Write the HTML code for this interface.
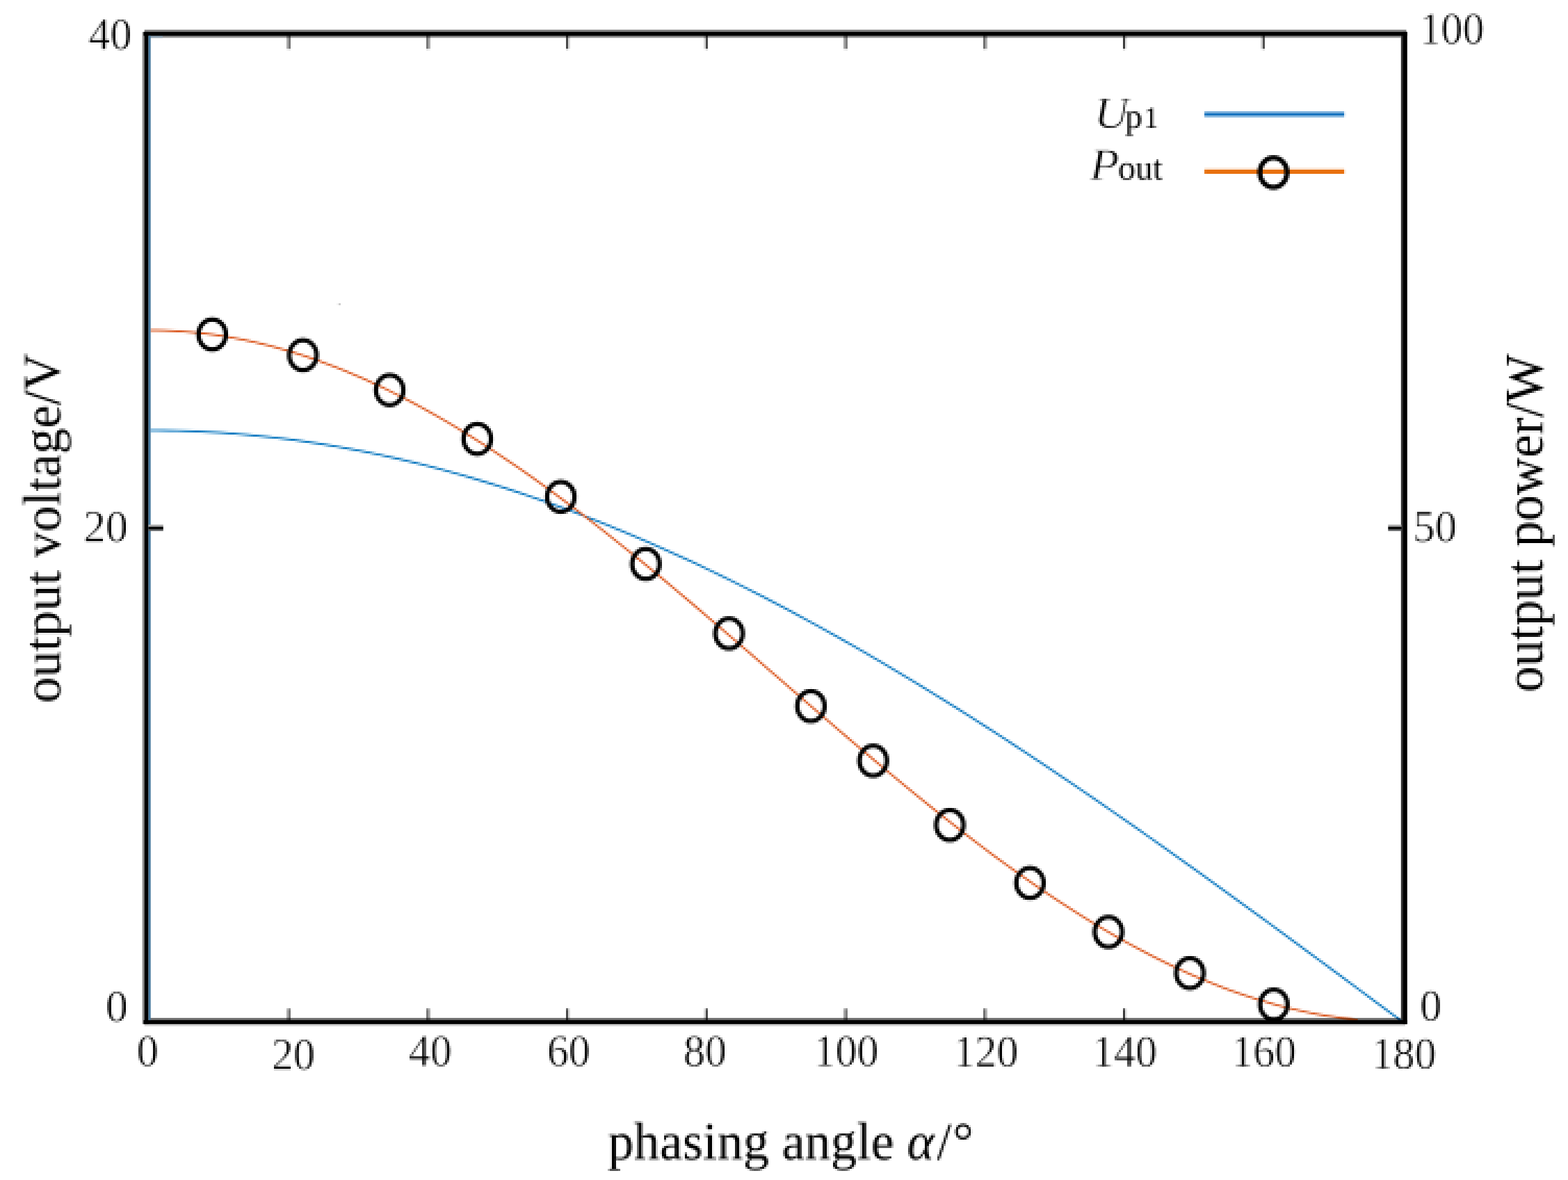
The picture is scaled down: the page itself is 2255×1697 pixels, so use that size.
<!DOCTYPE html>
<html lang="en"><head><meta charset="utf-8"><title>Output voltage and output power versus phasing angle</title>
<style>html,body{margin:0;padding:0;background:#fff;}body{width:2255px;height:1697px;overflow:hidden;}svg{display:block;}text{font-family:'Liberation Serif', 'DejaVu Serif', serif;fill:#000;stroke:#fff;stroke-width:0;paint-order:fill stroke;}.thin text{stroke-width:0.8px;}.it{stroke-width:1.1px;}.sm{stroke-width:0;}</style>
</head><body>
<svg width="2255" height="1697" viewBox="0 0 2255 1697">
<defs><filter id="lowres" filterUnits="userSpaceOnUse" x="0" y="0" width="2255" height="1697" color-interpolation-filters="sRGB">
<feConvolveMatrix in="SourceGraphic" order="3" kernelMatrix="1 1 1 1 1 1 1 1 1" divisor="9" edgeMode="duplicate" preserveAlpha="true" result="avg"/>
<feFlood x="2" y="2" width="1" height="1" flood-color="#000" result="dot"/>
<feComposite in="dot" in2="dot" operator="over" x="1" y="1" width="3" height="3" result="cell"/>
<feTile in="cell" result="grid"/>
<feComposite in="avg" in2="grid" operator="in" result="samples"/>
<feMorphology in="samples" operator="dilate" radius="1" result="blocks"/>
<feGaussianBlur in="blocks" stdDeviation="0.6" result="soft"/>
<feFlood flood-color="#fff" result="white"/>
<feComposite in="soft" in2="white" operator="over"/>
</filter>
<filter id="soft" filterUnits="userSpaceOnUse" x="190" y="30" width="1850" height="1460" color-interpolation-filters="sRGB"><feGaussianBlur stdDeviation="0.55"/></filter>
<clipPath id="edge"><rect x="214" y="1463.9" width="1800.8" height="5.1"/></clipPath>
</defs>
<g filter="url(#lowres)">
<rect x="0" y="0" width="2255" height="1697" fill="#fff"/>
<g fill="none" stroke-linejoin="round">
<path d="M215.7,619.0 L225.7,619.0 L235.7,619.1 L245.7,619.3 L255.7,619.5 L265.8,619.8 L275.8,620.2 L285.8,620.6 L295.8,621.1 L305.8,621.6 L315.8,622.2 L325.8,622.9 L335.8,623.7 L345.8,624.5 L355.9,625.3 L365.9,626.3 L375.9,627.3 L385.9,628.3 L395.9,629.5 L405.9,630.7 L415.9,631.9 L425.9,633.2 L435.9,634.6 L446.0,636.1 L456.0,637.6 L466.0,639.2 L476.0,640.8 L486.0,642.5 L496.0,644.3 L506.0,646.1 L516.0,648.0 L526.0,649.9 L536.1,652.0 L546.1,654.0 L556.1,656.2 L566.1,658.4 L576.1,660.6 L586.1,663.0 L596.1,665.4 L606.1,667.8 L616.1,670.3 L626.2,672.9 L636.2,675.5 L646.2,678.2 L656.2,681.0 L666.2,683.8 L676.2,686.6 L686.2,689.6 L696.2,692.6 L706.2,695.6 L716.2,698.7 L726.3,701.9 L736.3,705.1 L746.3,708.4 L756.3,711.8 L766.3,715.2 L776.3,718.6 L786.3,722.1 L796.3,725.7 L806.3,729.3 L816.4,733.0 L826.4,736.8 L836.4,740.5 L846.4,744.4 L856.4,748.3 L866.4,752.3 L876.4,756.3 L886.4,760.4 L896.4,764.5 L906.5,768.7 L916.5,772.9 L926.5,777.2 L936.5,781.5 L946.5,785.9 L956.5,790.4 L966.5,794.9 L976.5,799.4 L986.5,804.0 L996.6,808.6 L1006.6,813.3 L1016.6,818.1 L1026.6,822.9 L1036.6,827.7 L1046.6,832.6 L1056.6,837.6 L1066.6,842.6 L1076.6,847.6 L1086.7,852.7 L1096.7,857.8 L1106.7,863.0 L1116.7,868.2 L1126.7,873.5 L1136.7,878.8 L1146.7,884.2 L1156.7,889.6 L1166.7,895.1 L1176.8,900.6 L1186.8,906.1 L1196.8,911.7 L1206.8,917.3 L1216.8,923.0 L1226.8,928.7 L1236.8,934.4 L1246.8,940.2 L1256.8,946.1 L1266.9,951.9 L1276.9,957.9 L1286.9,963.8 L1296.9,969.8 L1306.9,975.8 L1316.9,981.9 L1326.9,988.0 L1336.9,994.1 L1346.9,1000.3 L1357.0,1006.5 L1367.0,1012.8 L1377.0,1019.0 L1387.0,1025.4 L1397.0,1031.7 L1407.0,1038.1 L1417.0,1044.5 L1427.0,1050.9 L1437.0,1057.4 L1447.1,1063.9 L1457.1,1070.5 L1467.1,1077.1 L1477.1,1083.7 L1487.1,1090.3 L1497.1,1096.9 L1507.1,1103.6 L1517.1,1110.4 L1527.1,1117.1 L1537.2,1123.9 L1547.2,1130.7 L1557.2,1137.5 L1567.2,1144.3 L1577.2,1151.2 L1587.2,1158.1 L1597.2,1165.0 L1607.2,1172.0 L1617.2,1178.9 L1627.3,1185.9 L1637.3,1192.9 L1647.3,1200.0 L1657.3,1207.0 L1667.3,1214.1 L1677.3,1221.2 L1687.3,1228.3 L1697.3,1235.4 L1707.3,1242.6 L1717.3,1249.7 L1727.4,1256.9 L1737.4,1264.1 L1747.4,1271.3 L1757.4,1278.6 L1767.4,1285.8 L1777.4,1293.1 L1787.4,1300.3 L1797.4,1307.6 L1807.4,1314.9 L1817.5,1322.2 L1827.5,1329.5 L1837.5,1336.9 L1847.5,1344.2 L1857.5,1351.6 L1867.5,1358.9 L1877.5,1366.3 L1887.5,1373.7 L1897.5,1381.0 L1907.6,1388.4 L1917.6,1395.8 L1927.6,1403.2 L1937.6,1410.6 L1947.6,1418.0 L1957.6,1425.5 L1967.6,1432.9 L1977.6,1440.3 L1987.6,1447.7 L1997.7,1455.1 L2007.7,1462.6 L2017.7,1470.0" stroke="#0072bd" stroke-width="2.7"/>
<path d="M215.7,475.1 L225.7,475.2 L235.7,475.4 L245.7,475.8 L255.7,476.3 L265.8,477.0 L275.8,477.8 L285.8,478.8 L295.8,479.9 L305.8,481.2 L315.8,482.6 L325.8,484.2 L335.8,486.0 L345.8,487.8 L355.9,489.9 L365.9,492.0 L375.9,494.4 L385.9,496.8 L395.9,499.4 L405.9,502.2 L415.9,505.1 L425.9,508.1 L435.9,511.3 L446.0,514.6 L456.0,518.1 L466.0,521.7 L476.0,525.4 L486.0,529.3 L496.0,533.3 L506.0,537.5 L516.0,541.7 L526.0,546.1 L536.1,550.7 L546.1,555.3 L556.1,560.1 L566.1,565.1 L576.1,570.1 L586.1,575.3 L596.1,580.5 L606.1,585.9 L616.1,591.5 L626.2,597.1 L636.2,602.9 L646.2,608.7 L656.2,614.7 L666.2,620.8 L676.2,627.0 L686.2,633.3 L696.2,639.7 L706.2,646.2 L716.2,652.8 L726.3,659.5 L736.3,666.3 L746.3,673.2 L756.3,680.1 L766.3,687.2 L776.3,694.4 L786.3,701.6 L796.3,708.9 L806.3,716.3 L816.4,723.8 L826.4,731.4 L836.4,739.0 L846.4,746.7 L856.4,754.5 L866.4,762.3 L876.4,770.2 L886.4,778.2 L896.4,786.2 L906.5,794.3 L916.5,802.4 L926.5,810.6 L936.5,818.8 L946.5,827.1 L956.5,835.4 L966.5,843.8 L976.5,852.2 L986.5,860.6 L996.6,869.1 L1006.6,877.6 L1016.6,886.2 L1026.6,894.7 L1036.6,903.3 L1046.6,911.9 L1056.6,920.5 L1066.6,929.2 L1076.6,937.8 L1086.7,946.5 L1096.7,955.2 L1106.7,963.9 L1116.7,972.5 L1126.7,981.2 L1136.7,989.9 L1146.7,998.6 L1156.7,1007.2 L1166.7,1015.9 L1176.8,1024.5 L1186.8,1033.2 L1196.8,1041.8 L1206.8,1050.4 L1216.8,1058.9 L1226.8,1067.5 L1236.8,1076.0 L1246.8,1084.4 L1256.8,1092.9 L1266.9,1101.3 L1276.9,1109.7 L1286.9,1118.0 L1296.9,1126.3 L1306.9,1134.5 L1316.9,1142.7 L1326.9,1150.8 L1336.9,1158.9 L1346.9,1166.9 L1357.0,1174.9 L1367.0,1182.8 L1377.0,1190.6 L1387.0,1198.4 L1397.0,1206.1 L1407.0,1213.7 L1417.0,1221.3 L1427.0,1228.8 L1437.0,1236.2 L1447.1,1243.5 L1457.1,1250.7 L1467.1,1257.9 L1477.1,1264.9 L1487.1,1271.9 L1497.1,1278.8 L1507.1,1285.6 L1517.1,1292.3 L1527.1,1298.9 L1537.2,1305.4 L1547.2,1311.8 L1557.2,1318.1 L1567.2,1324.3 L1577.2,1330.4 L1587.2,1336.4 L1597.2,1342.2 L1607.2,1348.0 L1617.2,1353.6 L1627.3,1359.1 L1637.3,1364.5 L1647.3,1369.8 L1657.3,1375.0 L1667.3,1380.0 L1677.3,1385.0 L1687.3,1389.7 L1697.3,1394.4 L1707.3,1398.9 L1717.3,1403.4 L1727.4,1407.6 L1737.4,1411.8 L1747.4,1415.8 L1757.4,1419.7 L1767.4,1423.4 L1777.4,1427.0 L1787.4,1430.5 L1797.4,1433.8 L1807.4,1437.0 L1817.5,1440.0 L1827.5,1442.9 L1837.5,1445.7 L1847.5,1448.3 L1857.5,1450.7 L1867.5,1453.0 L1877.5,1455.2 L1887.5,1457.3 L1897.5,1459.1 L1907.6,1460.9 L1917.6,1462.4 L1927.6,1463.9 L1937.6,1465.2 L1947.6,1466.3 L1957.6,1467.3 L1967.6,1468.1 L1977.6,1468.8 L1987.6,1469.3 L1997.7,1469.7 L2007.7,1469.9 L2017.7,1470.0" stroke="#d95319" stroke-width="2.7"/>
</g>
<g fill="none" stroke="#000" stroke-width="6.5">
<ellipse cx="305.2" cy="481.0" rx="19.7" ry="21.5"/>
<ellipse cx="435.7" cy="510.8" rx="19.7" ry="21.5"/>
<ellipse cx="560.4" cy="560.9" rx="19.7" ry="21.5"/>
<ellipse cx="686.4" cy="631.2" rx="19.7" ry="21.5"/>
<ellipse cx="806.5" cy="714.4" rx="19.7" ry="21.5"/>
<ellipse cx="928.8" cy="811.1" rx="19.7" ry="21.5"/>
<ellipse cx="1048.4" cy="911.1" rx="19.7" ry="21.5"/>
<ellipse cx="1166.2" cy="1015.5" rx="19.7" ry="21.5"/>
<ellipse cx="1255.7" cy="1094.0" rx="19.7" ry="21.5"/>
<ellipse cx="1366.0" cy="1186.5" rx="19.7" ry="21.5"/>
<ellipse cx="1481.2" cy="1269.8" rx="19.7" ry="21.5"/>
<ellipse cx="1594.1" cy="1340.3" rx="19.7" ry="21.5"/>
<ellipse cx="1711.2" cy="1399.4" rx="19.7" ry="21.5"/>
<ellipse cx="1831.9" cy="1444.7" rx="19.7" ry="21.5"/>
</g>
<g stroke="#3c3c3c" stroke-width="3.4" fill="none">
<path d="M415.4 1466V1450.5"/>
<path d="M415.4 52V70.5"/>
<path d="M615.6 1466V1450.5"/>
<path d="M615.6 52V70.5"/>
<path d="M815.9 1466V1450.5"/>
<path d="M815.9 52V70.5"/>
<path d="M1016.1 1466V1450.5"/>
<path d="M1016.1 52V70.5"/>
<path d="M1216.3 1466V1450.5"/>
<path d="M1216.3 52V70.5"/>
<path d="M1416.5 1466V1450.5"/>
<path d="M1416.5 52V70.5"/>
<path d="M1616.7 1466V1450.5"/>
<path d="M1616.7 52V70.5"/>
<path d="M1817.0 52V70.5"/>
</g>
<rect x="486.5" y="436" width="3" height="3" fill="#c4c4c4"/>
<path d="M1732.2 164.4H1933.4" stroke="#1673bf" stroke-width="6.4" fill="none"/>
<path d="M1732.2 246.8H1933.4" stroke="#e8710f" stroke-width="6.4" fill="none"/>
<ellipse cx="1831.4" cy="248.1" rx="19.6" ry="21.2" fill="none" stroke="#000" stroke-width="7.2"/>
<text><tspan x="1573.6" y="183.6" font-size="63.00" textLength="49.59" lengthAdjust="spacingAndGlyphs" class="it" font-style="italic">U</tspan><tspan x="1618.0" y="184.2" font-size="51.50" textLength="25.00" lengthAdjust="spacingAndGlyphs" class="sm">p</tspan><tspan x="1645.0" y="183.6" font-size="43.26" textLength="21.00" lengthAdjust="spacingAndGlyphs" class="sm">1</tspan></text>
<text><tspan x="1567.3" y="258.3" font-size="63.00" textLength="42.33" lengthAdjust="spacingAndGlyphs" class="it" font-style="italic">P</tspan><tspan x="1608.0" y="258.1" font-size="51.50" textLength="63.89" lengthAdjust="spacingAndGlyphs" class="sm">out</tspan></text>
<g font-size="62" class="thin">
<text transform="translate(127.6 70.6) scale(1.000 1.060)">40</text>
<text transform="translate(120.0 778.7) scale(1.035 1.060)">20</text>
<text transform="translate(152.0 1468.8) scale(1.035 1.060)">0</text>
<text transform="translate(2041.5 63.2) scale(1.000 1.060)">100</text>
<text transform="translate(2032.3 778.7) scale(1.015 1.060)">50</text>
<text transform="translate(2042.3 1467.8) scale(1.000 1.060)">0</text>
<text transform="translate(212.2 1533.0) scale(1.000 1.060)" text-anchor="middle">0</text>
<text transform="translate(422.0 1538.0) scale(1.000 1.060)" text-anchor="middle">20</text>
<text transform="translate(618.8 1533.0) scale(1.000 1.060)" text-anchor="middle">40</text>
<text transform="translate(817.8 1533.0) scale(1.000 1.060)" text-anchor="middle">60</text>
<text transform="translate(1014.1 1533.0) scale(1.000 1.060)" text-anchor="middle">80</text>
<text transform="translate(1217.0 1533.0) scale(1.000 1.060)" text-anchor="middle">100</text>
<text transform="translate(1417.9 1533.5) scale(1.000 1.060)" text-anchor="middle">120</text>
<text transform="translate(1617.5 1533.5) scale(1.000 1.060)" text-anchor="middle">140</text>
<text transform="translate(1817.7 1533.5) scale(1.000 1.060)" text-anchor="middle">160</text>
<text transform="translate(2019.0 1536.5) scale(1.000 1.060)" text-anchor="middle">180</text>
</g>
<text transform="translate(86.4 1011.0) rotate(-90) scale(1 1.035)" font-size="74.5">output voltage/V</text>
<text transform="translate(2218 995.4) rotate(-90) scale(1 1.05)" font-size="74.5">output power/W</text>
<text transform="translate(874.2 1667.1) scale(1 1.03)" font-size="74.5">phasing angle <tspan font-style="italic">α</tspan><tspan dx="4">/</tspan><tspan dx="2">°</tspan></text>
</g>
<g filter="url(#soft)">
<rect x="204.6" y="45.9" width="5.4" height="1426.9" fill="#909090"/>
<rect x="2014.8" y="45.9" width="5.2" height="1426.9" fill="#303030"/>
<rect x="207.7" y="42.7" width="1814.8" height="5.3" fill="#808080"/>
<rect x="214.0" y="50.0" width="1800.8" height="4.4" fill="#909090"/>
<rect x="214.0" y="1463.9" width="1800.8" height="5.1" fill="#707070"/>
<rect x="207.7" y="1470.0" width="1813.3" height="5.8" fill="#d0d0d0"/>
<rect x="214.0" y="50.0" width="20.0" height="4.4" fill="#8fa3b3"/>
<rect x="412.0" y="50.0" width="3.0" height="4.4" fill="#616161"/>
<rect x="412.0" y="1463.9" width="3.0" height="5.1" fill="#4b4b4b"/>
<rect x="415.0" y="50.0" width="3.0" height="4.4" fill="#424242"/>
<rect x="415.0" y="1463.9" width="3.0" height="5.1" fill="#333333"/>
<rect x="613.0" y="50.0" width="3.0" height="4.4" fill="#444444"/>
<rect x="613.0" y="1463.9" width="3.0" height="5.1" fill="#353535"/>
<rect x="616.0" y="50.0" width="3.0" height="4.4" fill="#5f5f5f"/>
<rect x="616.0" y="1463.9" width="3.0" height="5.1" fill="#4a4a4a"/>
<rect x="814.0" y="50.0" width="3.0" height="4.4" fill="#282828"/>
<rect x="814.0" y="1463.9" width="3.0" height="5.1" fill="#1f1f1f"/>
<rect x="817.0" y="50.0" width="3.0" height="4.4" fill="#7b7b7b"/>
<rect x="817.0" y="1463.9" width="3.0" height="5.1" fill="#606060"/>
<rect x="1012.0" y="50.0" width="3.0" height="4.4" fill="#797979"/>
<rect x="1012.0" y="1463.9" width="3.0" height="5.1" fill="#5e5e5e"/>
<rect x="1015.0" y="50.0" width="3.0" height="4.4" fill="#2a2a2a"/>
<rect x="1015.0" y="1463.9" width="3.0" height="5.1" fill="#212121"/>
<rect x="1213.0" y="50.0" width="3.0" height="4.4" fill="#5d5d5d"/>
<rect x="1213.0" y="1463.9" width="3.0" height="5.1" fill="#484848"/>
<rect x="1216.0" y="50.0" width="3.0" height="4.4" fill="#474747"/>
<rect x="1216.0" y="1463.9" width="3.0" height="5.1" fill="#373737"/>
<rect x="1414.0" y="50.0" width="3.0" height="4.4" fill="#404040"/>
<rect x="1414.0" y="1463.9" width="3.0" height="5.1" fill="#323232"/>
<rect x="1417.0" y="50.0" width="3.0" height="4.4" fill="#636363"/>
<rect x="1417.0" y="1463.9" width="3.0" height="5.1" fill="#4d4d4d"/>
<rect x="1615.0" y="50.0" width="3.0" height="4.4" fill="#232323"/>
<rect x="1615.0" y="1463.9" width="3.0" height="5.1" fill="#1b1b1b"/>
<rect x="1618.0" y="50.0" width="3.0" height="4.4" fill="#808080"/>
<rect x="1618.0" y="1463.9" width="3.0" height="5.1" fill="#636363"/>
<rect x="1813.0" y="50.0" width="3.0" height="4.4" fill="#757575"/>
<rect x="1816.0" y="50.0" width="3.0" height="4.4" fill="#2e2e2e"/>
<g clip-path="url(#edge)" fill="none">
<path d="M1917.6,1395.8 L1922.6,1399.5 L1927.6,1403.2 L1932.6,1406.9 L1937.6,1410.6 L1942.6,1414.3 L1947.6,1418.0 L1952.6,1421.8 L1957.6,1425.5 L1962.6,1429.2 L1967.6,1432.9 L1972.6,1436.6 L1977.6,1440.3 L1982.6,1444.0 L1987.6,1447.7 L1992.7,1451.4 L1997.7,1455.1 L2002.7,1458.9 L2007.7,1462.6 L2012.7,1466.3 L2017.7,1470.0" stroke="#0b3a63" stroke-width="3.4"/>
<path d="M1817.5,1440.0 L1820.8,1441.0 L1824.2,1442.0 L1827.6,1442.9 L1831.0,1443.9 L1834.4,1444.8 L1837.7,1445.7 L1841.1,1446.6 L1844.5,1447.5 L1847.9,1448.4 L1851.2,1449.2 L1854.6,1450.0 L1858.0,1450.8 L1861.4,1451.6 L1864.8,1452.4 L1868.1,1453.2 L1871.5,1453.9 L1874.9,1454.7 L1878.3,1455.4 L1881.7,1456.1 L1885.0,1456.8 L1888.4,1457.4 L1891.8,1458.1 L1895.2,1458.7 L1898.5,1459.3 L1901.9,1459.9 L1905.3,1460.5 L1908.7,1461.0 L1912.1,1461.6 L1915.4,1462.1 L1918.8,1462.6 L1922.2,1463.1 L1925.6,1463.6 L1929.0,1464.1 L1932.3,1464.5 L1935.7,1464.9 L1939.1,1465.3 L1942.5,1465.7 L1945.9,1466.1 L1949.2,1466.5 L1952.6,1466.8" stroke="#8a3a12" stroke-width="3.4"/>
<ellipse cx="1831.9" cy="1444.7" rx="19.7" ry="21.5" stroke="#000" stroke-width="7.5"/>
</g>
<rect x="207.7" y="45.9" width="5.9" height="1426.9" fill="#000"/>
<rect x="2017.8" y="45.9" width="6.0" height="1426.9" fill="#000"/>
<rect x="206.5" y="45.9" width="1817.3" height="5.6" fill="#000"/>
<rect x="206.5" y="1467.1" width="1817.3" height="5.7" fill="#000"/>
<rect x="213.5" y="51.5" width="3.2" height="1415.6" fill="#45789e"/>
<rect x="213.5" y="754.5" width="21.3" height="3.5" fill="#a8a8a8"/>
<rect x="213.5" y="760.5" width="21.3" height="3.1" fill="#585a5c"/>
<rect x="213.5" y="757.6" width="21.3" height="3.3" fill="#000"/>
<rect x="1996.3" y="754.5" width="19.2" height="3.5" fill="#a8a8a8"/>
<rect x="1996.3" y="760.5" width="19.2" height="3.1" fill="#585a5c"/>
<rect x="1996.3" y="757.6" width="19.2" height="3.3" fill="#000"/>
</g>
</svg>
</body></html>
